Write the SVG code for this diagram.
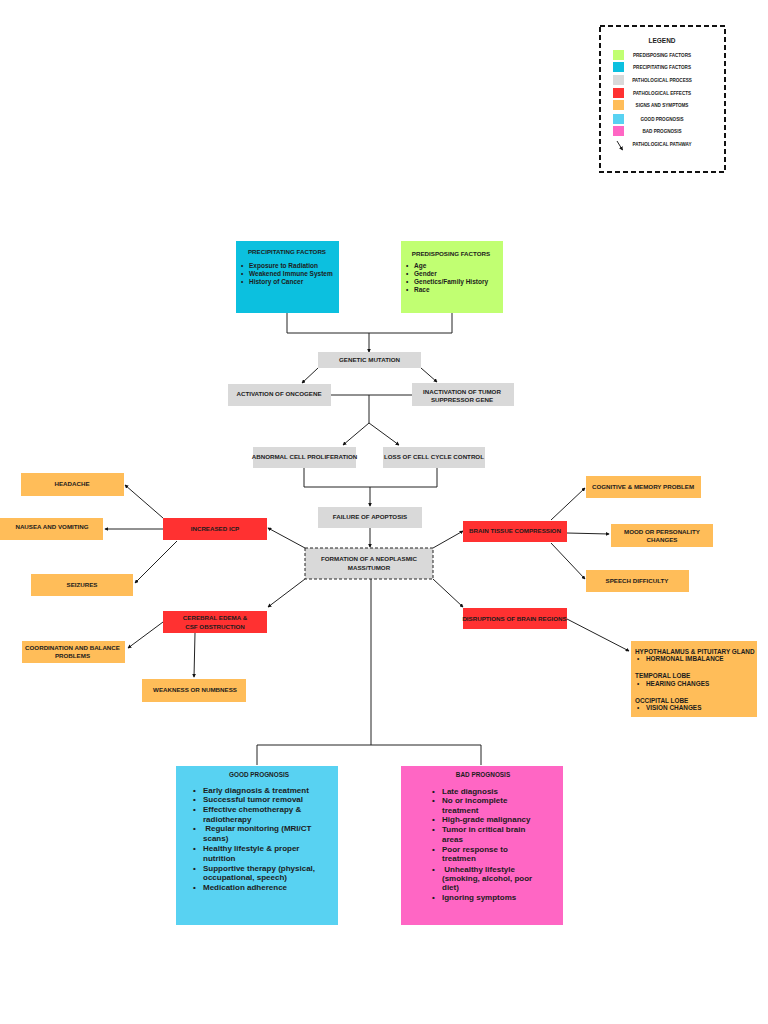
<svg xmlns="http://www.w3.org/2000/svg" width="768" height="1024" viewBox="0 0 768 1024">
<style>
text{font-family:"Liberation Sans",Arial,sans-serif;font-weight:bold;fill:#1c1c1c}
.s{font-size:6.2px;text-anchor:middle}
.l{font-size:4.6px;text-anchor:middle}
.t{font-size:6.5px}
.b{font-size:8px}
.h{font-size:6.4px}
.pre{fill:#0CC0DF}.pred{fill:#C1FF72}.proc{fill:#D9D9D9}.eff{fill:#FF3131}.sig{fill:#FFBD59}.good{fill:#58D2F2}.bad{fill:#FF66C4}
.c line,.c polyline,.c path{stroke:#222;stroke-width:1;fill:none}
.a{marker-end:url(#ah)}
</style>
<defs>
<marker id="ah" viewBox="0 0 6 6" refX="5" refY="3" markerWidth="4" markerHeight="4" orient="auto" markerUnits="userSpaceOnUse"><path d="M0,0 L6,3 L0,6 z" fill="#111"/></marker>
</defs>
<rect width="768" height="1024" fill="#fff"/>

<g id="legend">
<rect x="600" y="26" width="125" height="146" fill="#fff" stroke="#111" stroke-width="2" stroke-dasharray="5,3"/>
<text x="662" y="43" style="font-size:6.5px;text-anchor:middle">LEGEND</text>
<rect x="613" y="50" width="11" height="10" class="pred"/><text x="662" y="56.6" class="l">PREDISPOSING FACTORS</text>
<rect x="613" y="62" width="11" height="10" class="pre"/><text x="662" y="68.6" class="l">PRECIPITATING FACTORS</text>
<rect x="613" y="75" width="11" height="10" class="proc"/><text x="662" y="81.6" class="l">PATHOLOGICAL PROCESS</text>
<rect x="613" y="88" width="11" height="10" class="eff"/><text x="662" y="94.6" class="l">PATHOLOGICAL EFFECTS</text>
<rect x="613" y="100" width="11" height="10" class="sig"/><text x="662" y="106.6" class="l">SIGNS AND SYMPTOMS</text>
<rect x="613" y="114" width="11" height="10" class="good"/><text x="662" y="120.6" class="l">GOOD PROGNOSIS</text>
<rect x="613" y="126" width="11" height="10" class="bad"/><text x="662" y="132.6" class="l">BAD PROGNOSIS</text>
<g class="c"><line x1="617" y1="141" x2="622.5" y2="150" class="a"/></g>
<text x="662" y="145.6" class="l">PATHOLOGICAL PATHWAY</text>
</g>

<g id="connectors" class="c">
<polyline points="287,313 287,333 452,333 452,313"/>
<line x1="369" y1="333" x2="369" y2="352" class="a"/>
<line x1="318" y1="368" x2="302" y2="383" class="a"/>
<line x1="421" y1="368" x2="437" y2="382" class="a"/>
<line x1="331" y1="395" x2="412" y2="395"/>
<line x1="369" y1="395" x2="369" y2="423"/>
<line x1="369" y1="423" x2="343" y2="445" class="a"/>
<line x1="369" y1="423" x2="399" y2="445" class="a"/>
<polyline points="304,468 304,487 437,487 437,468"/>
<line x1="370" y1="487" x2="370" y2="506" class="a"/>
<line x1="370" y1="528" x2="370" y2="547" class="a"/>
<line x1="305" y1="548" x2="268" y2="528" class="a"/>
<line x1="433" y1="548" x2="463" y2="531" class="a"/>
<line x1="305" y1="579" x2="268" y2="607" class="a"/>
<line x1="433" y1="579" x2="463" y2="607" class="a"/>
<line x1="371" y1="579" x2="371" y2="745"/>
<polyline points="257,765 257,745 481,745 481,765"/>
<line x1="163" y1="518" x2="125" y2="485" class="a"/>
<line x1="163" y1="529" x2="105" y2="529" class="a"/>
<line x1="177" y1="541" x2="135" y2="583" class="a"/>
<line x1="163" y1="622" x2="128" y2="648" class="a"/>
<line x1="195" y1="633" x2="194" y2="677" class="a"/>
<line x1="551" y1="520" x2="585" y2="488" class="a"/>
<line x1="567" y1="533" x2="609" y2="534" class="a"/>
<line x1="551" y1="543" x2="585" y2="579" class="a"/>
<line x1="567" y1="619" x2="629" y2="651" class="a"/>
</g>

<g id="precipitating">
<rect x="236" y="241" width="103" height="72" class="pre"/>
<text x="287" y="254.2" class="s">PRECIPITATING FACTORS</text>
<text x="241" y="268.3" class="t">•</text><text x="249" y="268.3" class="t">Exposure to Radiation</text>
<text x="241" y="276.3" class="t">•</text><text x="249" y="276.3" class="t">Weakened Immune System</text>
<text x="241" y="284.3" class="t">•</text><text x="249" y="284.3" class="t">History of Cancer</text>
</g>
<g id="predisposing">
<rect x="401" y="241" width="102" height="72" class="pred"/>
<text x="451" y="256.2" class="s">PREDISPOSING FACTORS</text>
<text x="406" y="268.3" class="t">•</text><text x="414" y="268.3" class="t">Age</text>
<text x="406" y="276.3" class="t">•</text><text x="414" y="276.3" class="t">Gender</text>
<text x="406" y="284.3" class="t">•</text><text x="414" y="284.3" class="t">Genetics/Family History</text>
<text x="406" y="292.3" class="t">•</text><text x="414" y="292.3" class="t">Race</text>
</g>

<g id="genetic-mutation"><rect x="318" y="352" width="103" height="16" class="proc"/><text x="369.5" y="362.2" class="s">GENETIC MUTATION</text></g>
<g id="oncogene"><rect x="228" y="384" width="103" height="22" class="proc"/><text x="279" y="396.2" class="s">ACTIVATION OF ONCOGENE</text></g>
<g id="tumor-suppressor"><rect x="412" y="383" width="102" height="23" class="proc"/><text x="462" y="394.2" class="s">INACTIVATION OF TUMOR</text><text x="462" y="402.2" class="s">SUPPRESSOR GENE</text></g>
<g id="abnormal-proliferation"><rect x="253" y="447" width="103" height="21" class="proc"/><text x="304.5" y="459.2" class="s">ABNORMAL CELL PROLIFERATION</text></g>
<g id="loss-cell-cycle"><rect x="383" y="447" width="102" height="21" class="proc"/><text x="434" y="459.2" class="s">LOSS OF CELL CYCLE CONTROL</text></g>
<g id="failure-apoptosis"><rect x="318" y="507" width="104" height="21" class="proc"/><text x="370" y="519.2" class="s">FAILURE OF APOPTOSIS</text></g>
<g id="formation"><rect x="305" y="548" width="128" height="31" class="proc" stroke="#222" stroke-width="1" stroke-dasharray="3,2"/><text x="369" y="561.2" class="s">FORMATION  OF A NEOPLASMIC</text><text x="369" y="570.2" class="s">MASS/TUMOR</text></g>

<g id="increased-icp"><rect x="163" y="518" width="104" height="22" class="eff"/><text x="215" y="531.2" class="s">INCREASED ICP</text></g>
<g id="cerebral-edema"><rect x="163" y="611" width="104" height="22" class="eff"/><text x="215" y="620.2" class="s">CEREBRAL EDEMA &amp;</text><text x="215" y="629.2" class="s">CSF OBSTRUCTION</text></g>
<g id="brain-compression"><rect x="463" y="521" width="104" height="21" class="eff"/><text x="515" y="533.2" class="s">BRAIN TISSUE COMPRESSION</text></g>
<g id="disruptions"><rect x="463" y="608" width="104" height="21" class="eff"/><text x="514.5" y="621.2" class="s">DISRUPTIONS OF BRAIN REGIONS</text></g>

<g id="headache"><rect x="21" y="473" width="103" height="23" class="sig"/><text x="72" y="486.2" class="s">HEADACHE</text></g>
<g id="nausea"><rect x="0" y="518" width="103" height="22" class="sig"/><text x="52" y="529.2" class="s">NAUSEA AND VOMITING</text></g>
<g id="seizures"><rect x="31" y="574" width="102" height="22" class="sig"/><text x="82" y="587.2" class="s">SEIZURES</text></g>
<g id="coordination"><rect x="22" y="641" width="103" height="22" class="sig"/><text x="72.5" y="650.2" class="s">COORDINATION AND BALANCE</text><text x="72.5" y="658.2" class="s">PROBLEMS</text></g>
<g id="weakness"><rect x="142" y="679" width="104" height="23" class="sig"/><text x="195" y="692.2" class="s">WEAKNESS OR NUMBNESS</text></g>
<g id="cognitive"><rect x="586" y="476" width="115" height="22" class="sig"/><text x="643" y="489.2" class="s">COGNITIVE &amp; MEMORY PROBLEM</text></g>
<g id="mood"><rect x="611" y="524" width="102" height="23" class="sig"/><text x="662" y="534.2" class="s">MOOD OR PERSONALITY</text><text x="662" y="542.2" class="s">CHANGES</text></g>
<g id="speech"><rect x="586" y="570" width="103" height="22" class="sig"/><text x="637" y="583.2" class="s">SPEECH DIFFICULTY</text></g>
<g id="brain-regions">
<rect x="631" y="641" width="126" height="76" class="sig"/>
<text x="635" y="654.3" class="h">HYPOTHALAMUS &amp; PITUITARY GLAND</text>
<text x="637" y="661.3" class="h">•</text><text x="646" y="661.3" class="h">HORMONAL IMBALANCE</text>
<text x="635" y="678.3" class="h">TEMPORAL LOBE</text>
<text x="637" y="686.3" class="h">•</text><text x="646" y="686.3" class="h">HEARING CHANGES</text>
<text x="635" y="703.3" class="h">OCCIPITAL LOBE</text>
<text x="637" y="710.3" class="h">•</text><text x="646" y="710.3" class="h">VISION CHANGES</text>
</g>

<g id="good-prognosis">
<rect x="176" y="766" width="162" height="159" class="good"/>
<text x="259" y="777.2" class="s" style="font-size:6.4px">GOOD PROGNOSIS</text>
<text x="193" y="793" class="b">•</text><text x="203" y="793" class="b">Early diagnosis &amp; treatment</text>
<text x="193" y="802" class="b">•</text><text x="203" y="802" class="b">Successful tumor removal</text>
<text x="193" y="812" class="b">•</text><text x="203" y="812" class="b">Effective chemotherapy &amp;</text>
<text x="203" y="822" class="b">radiotherapy</text>
<text x="193" y="831" class="b">•</text><text x="203" y="831" class="b" xml:space="preserve"> Regular monitoring (MRI/CT</text>
<text x="203" y="841" class="b">scans)</text>
<text x="193" y="851" class="b">•</text><text x="203" y="851" class="b">Healthy lifestyle &amp; proper</text>
<text x="203" y="861" class="b">nutrition</text>
<text x="193" y="871" class="b">•</text><text x="203" y="871" class="b">Supportive therapy (physical,</text>
<text x="203" y="880" class="b">occupational, speech)</text>
<text x="193" y="890" class="b">•</text><text x="203" y="890" class="b">Medication adherence</text>
</g>

<g id="bad-prognosis">
<rect x="401" y="766" width="162" height="159" class="bad"/>
<text x="483" y="777.2" class="s" style="font-size:6.4px">BAD PROGNOSIS</text>
<text x="432" y="794" class="b">•</text><text x="442" y="794" class="b">Late diagnosis</text>
<text x="432" y="803" class="b">•</text><text x="442" y="803" class="b">No or incomplete</text>
<text x="442" y="813" class="b">treatment</text>
<text x="432" y="822" class="b">•</text><text x="442" y="822" class="b">High-grade malignancy</text>
<text x="432" y="832" class="b">•</text><text x="442" y="832" class="b">Tumor in critical brain</text>
<text x="442" y="842" class="b">areas</text>
<text x="432" y="852" class="b">•</text><text x="442" y="852" class="b">Poor response to</text>
<text x="442" y="861" class="b">treatmen</text>
<text x="432" y="872" class="b">•</text><text x="442" y="872" class="b" xml:space="preserve"> Unhealthy lifestyle</text>
<text x="442" y="881" class="b">(smoking, alcohol, poor</text>
<text x="442" y="890" class="b">diet)</text>
<text x="432" y="900" class="b">•</text><text x="442" y="900" class="b">Ignoring symptoms</text>
</g>
</svg>
